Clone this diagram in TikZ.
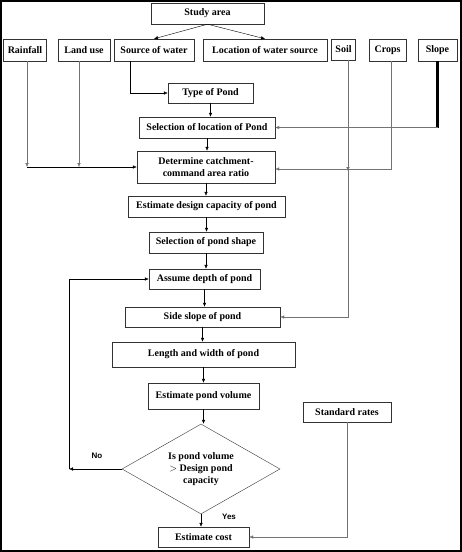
\documentclass[tikz,border=0pt]{standalone}
\usepackage{fontspec}
\setmainfont{Liberation Serif}
\newfontfamily\tagfont{Liberation Sans}
\usepackage{tikz}
\usetikzlibrary{shapes.geometric,arrows.meta}

\begin{document}
\begin{tikzpicture}[x=1pt,y=-1pt,
        box/.style={draw=black!80,rectangle,inner sep=0pt,font=\bfseries\fontsize{10}{12}\selectfont,align=center},
        arr/.style={-{Latex[length=4pt,width=3.5pt]}},
        side/.style={draw=black!55}]
        \useasboundingbox (0,0) rectangle (462,552);
        \draw[line width=2.2pt] (1.1,1.1) rectangle (460.9,550.9);

        \begin{scope}[every node/.style={box}]
            \node[minimum width=113pt,minimum height=21pt] (study) at (207.5,13.5) {Study area};

            \node[minimum width=43pt,minimum height=22pt] (rain) at (25,50) {Rainfall};
            \node[minimum width=52pt,minimum height=22pt] (land) at (84,50) {Land use};
            \node[minimum width=80pt,minimum height=22pt] (src) at (154,50) {Source of water};
            \node[minimum width=124pt,minimum height=22pt] (loc) at (265,50) {Location of water source};
            \node[minimum width=24pt,minimum height=21pt] (soil) at (343.5,49.5) {Soil};
            \node[minimum width=37pt,minimum height=22pt] (crops) at (387.5,50) {Crops};
            \node[minimum width=39pt,minimum height=22pt] (slope) at (437.5,50) {Slope};

            \node[minimum width=85pt,minimum height=20pt] (type) at (210.5,93) {Type of Pond};
            \node[minimum width=136pt,minimum height=21pt] (site) at (207,127.5) {Selection of location of Pond};
            \node[minimum width=138pt,minimum height=32pt] (ratio) at (206,167) {Determine catchment-\\command area ratio};
            \node[minimum width=157pt,minimum height=21pt] (cap) at (206.5,206.5) {Estimate design capacity of pond};
            \node[minimum width=114pt,minimum height=21pt] (shape) at (206,242.5) {Selection of pond shape};
            \node[minimum width=111pt,minimum height=20pt] (depth) at (204.5,279) {Assume depth of pond};
            \node[minimum width=155pt,minimum height=20pt] (sides) at (202.5,317) {Side slope of pond};
            \node[minimum width=183pt,minimum height=25pt] (size) at (203.5,354.5) {Length and width of pond};
            \node[minimum width=111pt,minimum height=26pt] (vol) at (203.5,396) {Estimate pond volume};
            \node[diamond,shape aspect=1.75,minimum width=158pt,minimum height=90pt] (check) at (201,469) {Is pond volume\\ $>$ Design pond\\ capacity};
            \node[minimum width=91pt,minimum height=20pt] (cost) at (203.5,537) {Estimate cost};
            \node[minimum width=88pt,minimum height=20pt] (rates) at (347,412) {Standard rates};
        \end{scope}

        \coordinate (back) at (69,469);
        \node[font=\tagfont\bfseries\fontsize{8}{9}\selectfont] (no) at (97,456) {No};
        \node[font=\tagfont\bfseries\fontsize{8}{9}\selectfont] (yes) at (229,517) {Yes};

        \begin{scope}[every edge/.style={draw,arr}]
            \path (study.south) edge (src.north);
            \path (study.south) edge (loc.north);
            \path (type.south) edge (type.south |- site.north);
            \path (site.south) edge (site.south |- ratio.north);
            \path (ratio.south) edge (ratio.south |- cap.north);
            \path (cap.south) edge (cap.south |- shape.north);
            \path (shape.south) edge (shape.south |- depth.north);
            \path (depth.south) edge (depth.south |- sides.north);
            \path (sides.south) edge (sides.south |- size.north);
            \path (size.south) edge (size.south |- vol.north);
            \path (vol.south) edge (vol.south |- check.north);
            \path (check.south) edge (check.south |- cost.north);
            \path (check.west) edge (back);
        \end{scope}

        \draw[arr] ([xshift=-24pt]src.south) |- (type.west);
        \draw[arr] (back) |- (depth.west);
        \draw[line width=2.2pt] (slope.south) -- (slope.south |- site.east);
        \draw[arr,side] (slope.south |- site.east) -- (site.east);
        \draw[arr,side] ([xshift=2pt]rain.south) -- ([xshift=2pt]rain.south |- ratio.west);
        \draw[arr,side] ([xshift=-5pt]land.south) -- ([xshift=-5pt]land.south |- ratio.west);
        \draw[arr] ([xshift=2pt]rain.south |- ratio.west) -- (ratio.west);
        \draw[arr,side] ([xshift=3.5pt]crops.south) |- ([yshift=-2pt]ratio.east);
        \draw[arr,side] ([xshift=4.5pt]soil.south) -- ([xshift=4.5pt,yshift=-4pt]soil.south |- ratio.east);
        \draw[arr,side] ([xshift=4.5pt]soil.south |- ratio.east) |- (sides.east);
        \draw[arr,side] (rates.south) |- (cost.east);
    \end{tikzpicture}
\end{document}
